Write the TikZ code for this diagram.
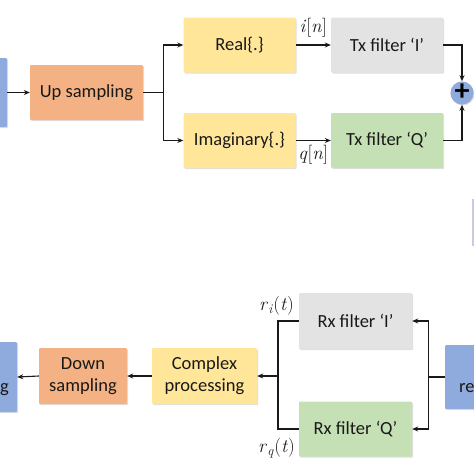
\documentclass[tikz,border=0pt]{standalone}
\usepackage[no-math]{fontspec}
\usepackage{amsmath}
\usepackage{tikz}
\usetikzlibrary{arrows.meta, positioning, shadows, calc}
\newfontfamily\boxfont{Carlito}
\definecolor{mainBlack}{gray}{0.1}
\definecolor{boxBlue}{HTML}{8FAADC}
\definecolor{boxOrange}{HTML}{F4B183}
\definecolor{boxYellow}{HTML}{FFE699}
\definecolor{boxGray}{HTML}{E3E3E3}
\definecolor{boxGreen}{HTML}{C5E0B4}
\definecolor{boxLav}{HTML}{C9CBE0}
\newcommand{\sig}[2]{\textit{#1}\textsubscript{\textit{#2}}(\textit{t})}
\tikzset{
  blk/.style={fill=#1, minimum width=112pt, minimum height=55pt, inner sep=2pt,
    align=center, text=mainBlack, rounded corners=1pt,
    font=\boxfont\fontsize{18.5}{22}\selectfont,
    drop shadow={shadow xshift=1.2pt, shadow yshift=-1.2pt, opacity=0.25}},
  lbl/.style={font=\rmfamily\fontsize{19}{22}\selectfont, text=mainBlack},
  cut/.style={inner sep=0pt, text=mainBlack, font=\boxfont\fontsize{18.5}{22}\selectfont},
  wire/.style={line width=1.1pt, mainBlack}
}

\begin{document}
\begin{tikzpicture}[x=1pt, y=-1pt, >={Stealth[length=6pt, width=5pt]}]
    \useasboundingbox (0,0) rectangle (474,474);
    \clip (0,0) rectangle (474,474);

    % transmitter
    \node[blk=boxBlue, minimum width=104pt, minimum height=69pt] (map) at (-45,92.5) {};
    \node[blk=boxOrange, minimum width=113pt] (up) at (86.5,92.5) {Up sampling};
    \node[blk=boxYellow] (real) at (239.5,45) {Real\{.\}};
    \node[blk=boxYellow] (imag) at (239.5,140.5) {Imaginary\{.\}};
    \node[blk=boxGray] (txI) at (387,45) {Tx filter ‘I’};
    \node[blk=boxGreen] (txQ) at (387,140.5) {Tx filter ‘Q’};
    \node[circle, fill=boxBlue, minimum size=22pt, inner sep=0pt,
          drop shadow={shadow xshift=1pt, shadow yshift=-1pt, opacity=0.25}] (sum) at (462,93)
          {\boxfont\bfseries\fontsize{30}{30}\selectfont\raisebox{1pt}{+}};

    \draw[->, wire] (map.east) -- (up.west);
    \draw[wire] (up.east) -- ++(20,0) coordinate (fork);
    \draw[->, wire] (fork) |- (real.west);
    \draw[->, wire] (fork) |- (imag.west);
    \draw[->, wire] (real.east) -- (txI.west) node[lbl, midway, above=4pt] (iLbl) {\textit{i}[\textit{n}]};
    \draw[->, wire] (imag.east) -- (txQ.west) node[lbl, midway, below=1pt] (qLbl) {\textit{q}[\textit{n}]};
    \draw[->, wire] (txI.east) -| (sum.north);
    \draw[->, wire] (txQ.east) -| (sum.south);

    % partly hidden block
    \fill[boxLav] (472,199) rectangle (482,246);

    % receiver
    \node[blk=boxBlue, minimum width=104pt, minimum height=70pt] (demap) at (-35,377) {};
    \node[blk=boxOrange, minimum width=88pt, minimum height=56pt] (down) at (83,376) {Down\\sampling};
    \node[blk=boxYellow, minimum width=105pt, minimum height=56pt] (cplx) at (204.5,376) {Complex\\processing};
    \node[blk=boxGray, minimum width=113pt, minimum height=56pt] (rxI) at (355.5,321) {Rx filter ‘I’};
    \node[blk=boxGreen, minimum width=113pt] (rxQ) at (355.5,429) {Rx filter ‘Q’};
    \node[blk=boxBlue, minimum width=95pt, minimum height=64pt] (rf) at (492.5,377) {};
    \node[cut, anchor=base west] (demapTxt) at (0,392) {g};
    \node[cut, anchor=base west] (rfTxt) at (459,392) {re};

    \draw[wire] (rf.west) -- ++(-16,0) coordinate (forkR);
    \draw[->, wire] (forkR) |- (rxI.east);
    \draw[->, wire] (forkR) |- (rxQ.east);
    \coordinate (join) at (278,376);
    \draw[wire] (rxI.west) -| (join);
    \draw[wire] (rxQ.west) -| (join);
    \draw[->, wire] (join) -- (cplx.east);
    \draw[->, wire] (cplx.west) -- (down.east);
    \draw[->, wire] (down.west) -- (demap.east);

    \node[lbl] (riLbl) at (276.5,306) {\sig{r}{i}};
    \node[lbl] (rqLbl) at (276.5,448) {\sig{r}{q}};
\end{tikzpicture}
\end{document}
